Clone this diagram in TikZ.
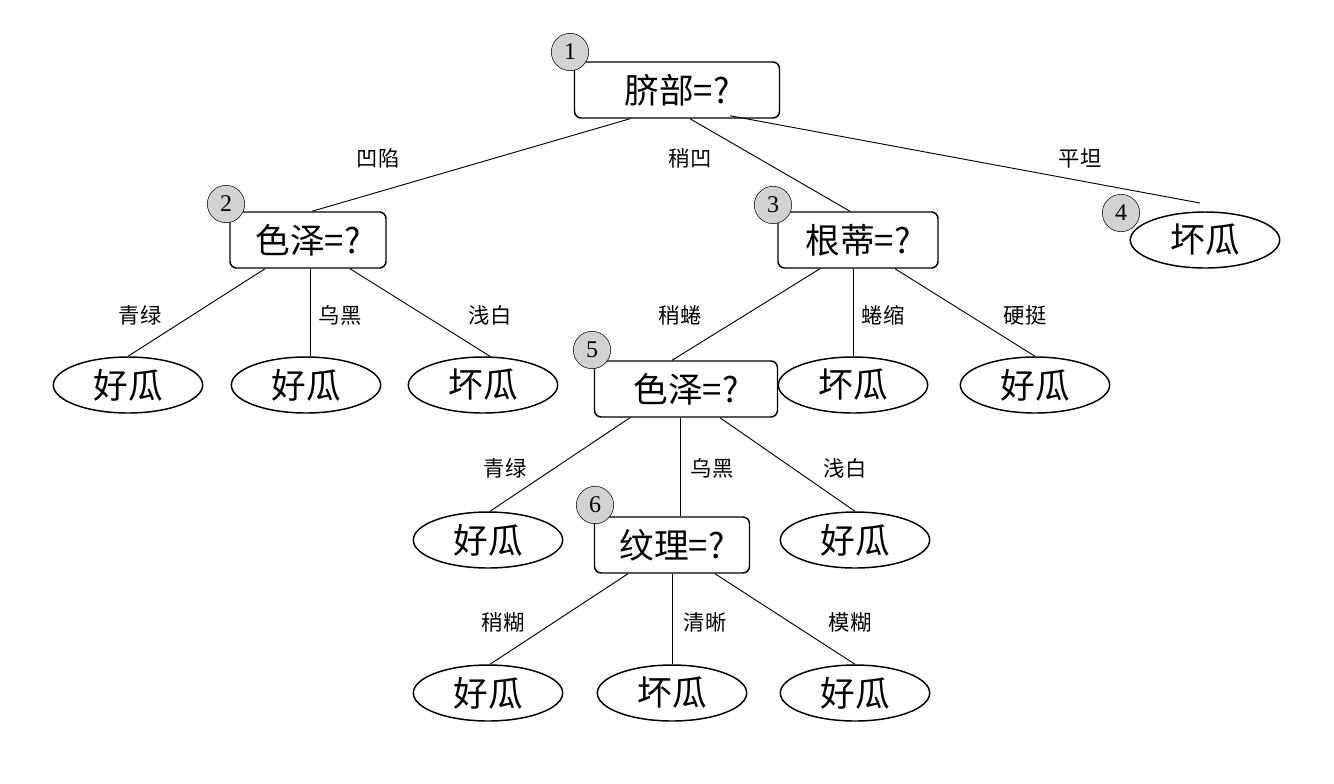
\documentclass[tikz,border=0pt]{standalone}
\usepackage{fontspec}
\setmainfont{Liberation Serif}
\newfontfamily\cjk{Noto Sans CJK SC}
\usetikzlibrary{shapes.geometric,calc}
\begin{document}
\begin{tikzpicture}[x=0.75pt,y=-0.75pt,
 qbox/.style={draw,rounded corners=5pt,line width=1.1pt,minimum width=#1*0.75pt,minimum height=42pt,inner sep=0pt,font=\cjk\fontsize{26}{28}\selectfont},
 leaf/.style={draw,ellipse,line width=1.1pt,minimum width=112pt,minimum height=42pt,inner sep=0pt,font=\cjk\fontsize{26}{28}\selectfont},
 num/.style={draw,circle,fill=gray!35,minimum size=28pt,inner sep=0pt,font=\fontsize{18}{20}\selectfont},
 lab/.style={font=\cjk\fontsize{16}{18}\selectfont},
 edge/.style={line width=0.7pt}]
\useasboundingbox (0,0) rectangle (1334,783);
\node[qbox=205] (r) at (677,90) {脐部=?};
\node[qbox=156] (b2) at (308,240) {色泽=?};
\node[qbox=160] (b3) at (858,240) {根蒂=?};
\node[leaf] (l4) at (1205,240) {坏瓜};
\node[leaf] (a1) at (128,385) {好瓜};
\node[leaf] (a2) at (306,385) {好瓜};
\node[leaf] (a3) at (483,385) {坏瓜};
\node[qbox=183] (b5) at (686,389) {色泽=?};
\node[leaf] (a4) at (853,385) {坏瓜};
\node[leaf] (a5) at (1035,385) {好瓜};
\node[leaf] (c1) at (488,540) {好瓜};
\node[qbox=155] (b6) at (672,545) {纹理=?};
\node[leaf] (c2) at (855,540) {好瓜};
\node[leaf] (d1) at (488,693) {好瓜};
\node[leaf] (d2) at (672,693) {坏瓜};
\node[leaf] (d3) at (855,693) {好瓜};
\coordinate (t4) at (1200,203);
\draw[edge] ($(r.south)+(-47,0)$) -- ($(b2.north)+(4,0)$);
\draw[edge] ($(r.south)+(13,0)$) -- ($(b3.north)+(-8,0)$);
\draw[edge] ($(r.south)+(53,-3)$) -- (t4);
\draw[edge] ($(b2.south)+(-43,0)$) -- (a1.north);
\draw[edge] ($(b2.south)+(2,0)$) -- ($(a2.north)+(4,0)$);
\draw[edge] ($(b2.south)+(42,0)$) -- ($(a3.north)+(7,0)$);
\draw[edge] ($(b3.south)+(-38,0)$) -- ($(b5.north)+(-14,0)$);
\draw[edge] ($(b3.south)+(-5,0)$) -- (a4.north);
\draw[edge] ($(b3.south)+(37,0)$) -- (a5.north);
\draw[edge] ($(b5.south)+(-56,0)$) -- ($(c1.north)+(2,0)$);
\draw[edge] ($(b5.south)+(-6,0)$) -- ($(b6.north)+(8,0)$);
\draw[edge] ($(b5.south)+(34,0)$) -- (c2.north);
\draw[edge] ($(b6.south)+(-44,0)$) -- ($(d1.north)+(2,0)$);
\draw[edge] (b6.south) -- (d2.north);
\draw[edge] ($(b6.south)+(43,0)$) -- (d3.north);
\node[num] (n1) at (570,52) {1};
\node[num] (n2) at (226,204) {2};
\node[num] (n3) at (773,205) {3};
\node[num] (n4) at (1121,213) {4};
\node[num] (n5) at (592,350) {5};
\node[num] (n6) at (595,505) {6};
\node[lab] (e1) at (378,158) {凹陷};
\node[lab] (e2) at (690,158) {稍凹};
\node[lab] (e3) at (1080,158) {平坦};
\node[lab] (e4) at (140,315) {青绿};
\node[lab] (e5) at (340,315) {乌黑};
\node[lab] (e6) at (490,315) {浅白};
\node[lab] (e7) at (680,315) {稍蜷};
\node[lab] (e8) at (883,315) {蜷缩};
\node[lab] (e9) at (1025,315) {硬挺};
\node[lab] (e10) at (505,468) {青绿};
\node[lab] (e11) at (712,468) {乌黑};
\node[lab] (e12) at (845,468) {浅白};
\node[lab] (e13) at (503,622) {稍糊};
\node[lab] (e14) at (705,622) {清晰};
\node[lab] (e15) at (850,622) {模糊};
\end{tikzpicture}
\end{document}
